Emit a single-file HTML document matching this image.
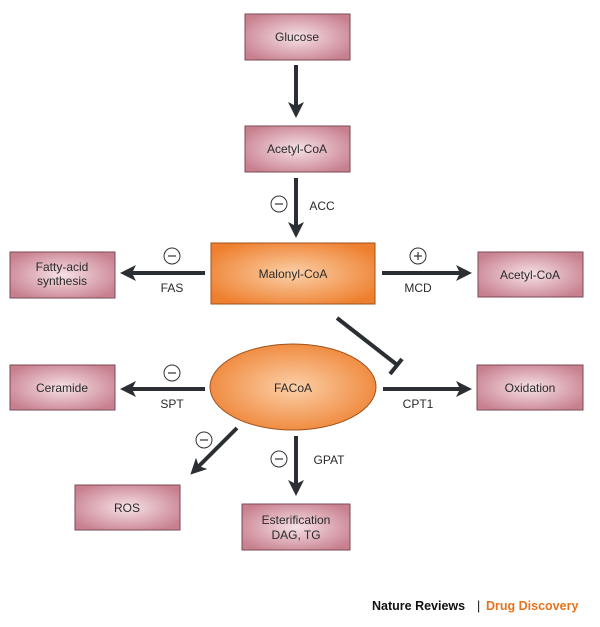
<!DOCTYPE html>
<html><head><style>
body{margin:0;background:#fff;width:600px;height:622px;overflow:hidden;font-family:"Liberation Sans",sans-serif}
</style></head><body>
<svg width="600" height="622" viewBox="0 0 600 622" xmlns="http://www.w3.org/2000/svg" font-family="Liberation Sans, sans-serif">
<defs>
<radialGradient id="p" cx="50%" cy="50%" r="60%"><stop offset="0" stop-color="#f6e1e6"/><stop offset="1" stop-color="#c8808f"/></radialGradient>
<radialGradient id="o" cx="50%" cy="50%" r="60%"><stop offset="0" stop-color="#fbd0a8"/><stop offset="1" stop-color="#ee7f2e"/></radialGradient>
<marker id="a" markerWidth="4" markerHeight="4" refX="2" refY="2" orient="auto" markerUnits="strokeWidth"><path d="M0,0 L4,2 L0,4 L1,2Z" fill="#2b2f33"/></marker>
</defs>
<g stroke="#7a4a55" stroke-width="1" fill="url(#p)">
<rect x="245" y="14" width="105" height="46"/>
<rect x="245" y="126" width="105" height="46"/>
<rect x="10" y="252" width="105" height="46"/>
<rect x="478" y="252" width="105" height="45"/>
<rect x="10" y="365" width="105" height="45"/>
<rect x="477" y="365" width="106" height="45"/>
<rect x="75" y="485" width="105" height="45"/>
<rect x="242" y="504" width="108" height="46"/>
</g>
<rect x="211" y="243" width="164" height="61" fill="url(#o)" stroke="#a0521d"/>
<ellipse cx="293" cy="387" rx="83" ry="43" fill="url(#o)" stroke="#a0521d"/>
<g stroke="#2b2f33" stroke-width="4" fill="none" marker-end="url(#a)">
<line x1="296" y1="65" x2="296" y2="110"/>
<line x1="296" y1="178" x2="296" y2="230"/>
<line x1="205" y1="273" x2="128" y2="273"/>
<line x1="382" y1="273" x2="464" y2="273"/>
<line x1="205" y1="389" x2="128" y2="389"/>
<line x1="383" y1="389" x2="464" y2="389"/>
<line x1="237" y1="428" x2="196" y2="469"/>
<line x1="296" y1="436" x2="296" y2="488"/>
</g>
<g stroke="#2b2f33" stroke-width="4">
<line x1="337" y1="318" x2="396" y2="364"/>
<line x1="390" y1="374" x2="402" y2="359"/>
</g>
<g fill="none" stroke="#333" stroke-width="1">
<circle cx="279" cy="204" r="8"/><circle cx="172" cy="256" r="8"/><circle cx="418" cy="256" r="8"/>
<circle cx="172" cy="373" r="8"/><circle cx="204" cy="440" r="8"/><circle cx="279" cy="459" r="8"/>
</g>
<g stroke="#333" stroke-width="1.2">
<line x1="275" y1="204" x2="283" y2="204"/><line x1="168" y1="256" x2="176" y2="256"/>
<line x1="414" y1="256" x2="422" y2="256"/><line x1="418" y1="252" x2="418" y2="260"/>
<line x1="168" y1="373" x2="176" y2="373"/><line x1="200" y1="440" x2="208" y2="440"/>
<line x1="275" y1="459" x2="283" y2="459"/>
</g>
<g font-size="12" fill="#2a2a2a" text-anchor="middle">
<text x="297" y="41">Glucose</text>
<text x="297" y="153">Acetyl-CoA</text>
<text x="62" y="271">Fatty-acid</text><text x="62" y="285">synthesis</text>
<text x="530" y="279">Acetyl-CoA</text>
<text x="293" y="278">Malonyl-CoA</text>
<text x="293" y="392">FACoA</text>
<text x="62" y="392">Ceramide</text>
<text x="530" y="392">Oxidation</text>
<text x="127" y="512">ROS</text>
<text x="296" y="524">Esterification</text><text x="296" y="539">DAG, TG</text>
<text x="322" y="210">ACC</text>
<text x="172" y="292">FAS</text>
<text x="418" y="292">MCD</text>
<text x="172" y="408">SPT</text>
<text x="418" y="408">CPT1</text>
<text x="329" y="464">GPAT</text>
</g>
<text x="372" y="610" font-size="12.5" font-weight="bold" fill="#111">Nature Reviews</text>
<text x="477" y="610" font-size="12.5" fill="#111">|</text>
<text x="486" y="610" font-size="12.5" font-weight="bold" fill="#e8731c">Drug Discovery</text>
</svg>
</body></html>
